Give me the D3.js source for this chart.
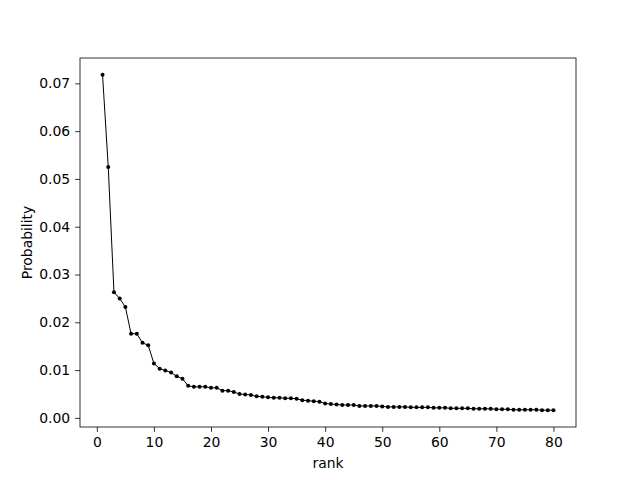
<!DOCTYPE html>
<html>
<head>
<meta charset="utf-8">
<script src="https://cdn.jsdelivr.net/npm/d3@7"></script>
<style>
  body { margin: 0; background: #fff; }
  text { font-family: 'DejaVu Sans', sans-serif; }
</style>
</head>
<body>
<div id="chart"></div>
<script>
// rank-probability values
var probs = [
  0.0718, 0.0525, 0.0263, 0.0250, 0.0232, 0.0176, 0.0176, 0.0157, 0.0152, 0.0114,
  0.0103, 0.0099, 0.0095, 0.0087, 0.0082, 0.0067, 0.0065, 0.0065, 0.0065, 0.0063,
  0.0063, 0.0057, 0.0057, 0.0054, 0.0050, 0.0049, 0.0048, 0.0045, 0.0044, 0.0043,
  0.0042, 0.0042, 0.0041, 0.0041, 0.0040, 0.0037, 0.0036, 0.0035, 0.0034, 0.0030,
  0.0029, 0.0028, 0.0027, 0.0027, 0.0027, 0.0025, 0.0025, 0.0025, 0.0025, 0.0024,
  0.0023, 0.0023, 0.0023, 0.0023, 0.0022, 0.0022, 0.0022, 0.0022, 0.0021, 0.0021,
  0.0021, 0.0020, 0.0020, 0.0020, 0.0020, 0.0019, 0.0019, 0.0019, 0.0019, 0.0018,
  0.0018, 0.0018, 0.0017, 0.0017, 0.0017, 0.0017, 0.0017, 0.0016, 0.0016, 0.0016
];
var ranks = probs.map(function(d, i){ return i + 1; });
var xTicks = [0, 10, 20, 30, 40, 50, 60, 70, 80];
var yTicks = [0, 0.01, 0.02, 0.03, 0.04, 0.05, 0.06, 0.07];

var width = 640, height = 480;
var margin = { top: 58, right: 64, bottom: 53, left: 80 };

var svg = d3.select('#chart').append('svg')
  .attr('width', width)
  .attr('height', height);

// matplotlib style 5% padding around the data
var xMin = d3.min(ranks), xMax = d3.max(ranks);
var yMin = d3.min(probs), yMax = d3.max(probs);
var xPad = (xMax - xMin) * 0.05, yPad = (yMax - yMin) * 0.05;

var x = d3.scaleLinear()
  .domain([xMin - xPad, xMax + xPad])
  .range([margin.left, width - margin.right]);
var y = d3.scaleLinear()
  .domain([yMin - yPad, yMax + yPad])
  .range([height - margin.bottom, margin.top]);

var pts = ranks.map(function(r, i){ return [r, probs[i]]; });

svg.append('path')
  .datum(pts)
  .attr('fill', 'none')
  .attr('stroke', '#000')
  .attr('stroke-width', 1)
  .attr('d', d3.line().x(function(d){ return x(d[0]); }).y(function(d){ return y(d[1]); }));

svg.append('g').selectAll('circle')
  .data(pts)
  .enter().append('circle')
    .attr('cx', function(d){ return x(d[0]); })
    .attr('cy', function(d){ return y(d[1]); })
    .attr('r', 2)
    .attr('fill', '#000');

// axes
var xAxis = svg.append('g')
  .attr('transform', 'translate(0,' + (height - margin.bottom) + ')')
  .call(d3.axisBottom(x).tickValues(xTicks).tickSize(4.9).tickPadding(4.9).tickFormat(d3.format('d')));
var yAxis = svg.append('g')
  .attr('transform', 'translate(' + margin.left + ',0)')
  .call(d3.axisLeft(y).tickValues(yTicks).tickSize(4.9).tickPadding(4.9).tickFormat(d3.format('.2f')));

[xAxis, yAxis].forEach(function(g){
  g.select('.domain').remove();
  g.selectAll('.tick line').attr('stroke', '#000').attr('stroke-width', 0.8);
  g.selectAll('.tick text')
    .attr('fill', '#000')
    .attr('font-size', 13.9)
    .attr('font-family', 'DejaVu Sans, sans-serif');
});

// frame
svg.append('rect')
  .attr('x', margin.left)
  .attr('y', margin.top)
  .attr('width', width - margin.left - margin.right)
  .attr('height', height - margin.top - margin.bottom)
  .attr('fill', 'none')
  .attr('stroke', '#000')
  .attr('stroke-width', 0.8);

svg.append('text')
  .attr('x', (margin.left + width - margin.right) / 2)
  .attr('y', 468)
  .attr('text-anchor', 'middle')
  .attr('font-size', 13.9)
  .text('rank');

svg.append('text')
  .attr('transform', 'translate(32,' + ((margin.top + height - margin.bottom) / 2) + ') rotate(-90)')
  .attr('text-anchor', 'middle')
  .attr('font-size', 13.9)
  .text('Probability');
</script>
</body>
</html>
